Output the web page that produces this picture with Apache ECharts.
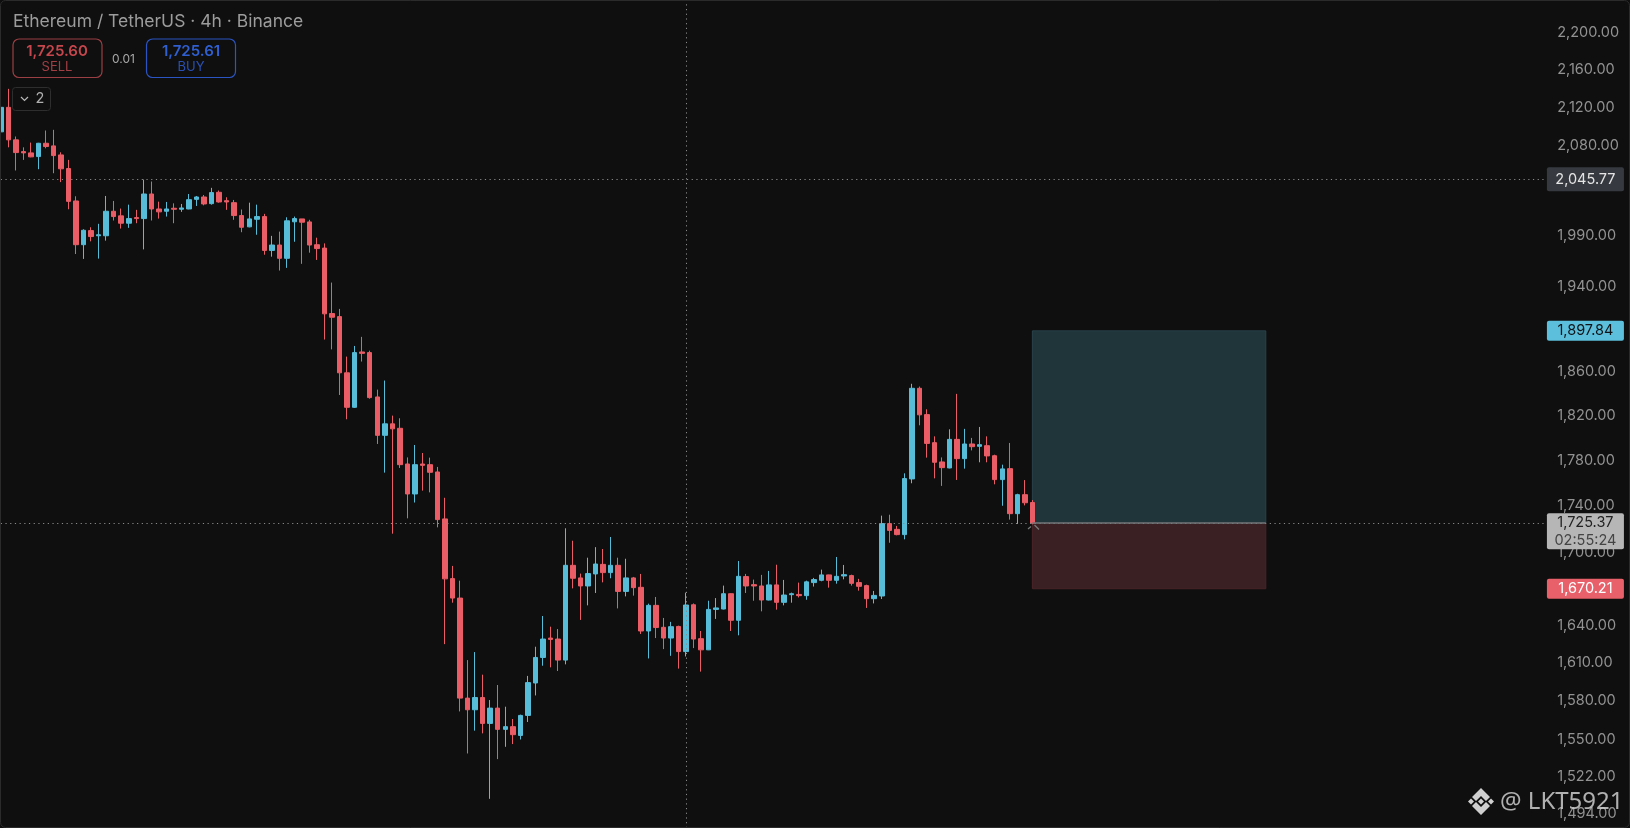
<!DOCTYPE html>
<html><head><meta charset="utf-8">
<script src="https://cdn.jsdelivr.net/npm/echarts@6/dist/echarts.min.js"></script>
<style>html,body{margin:0;padding:0;background:#0a0a0a}#c{width:1630px;height:828px}</style>
</head><body><div id="c"></div>
<script>
const opens=[2094.5,2120.1,2086.2,2074.1,2072.8,2069,2082.7,2080,2070.7,2056.8,
2024,1980.6,1994.5,1989.4,1989.4,2013.7,2009.1,2001.8,2007.4,2006.4,
2031,2016,2013.7,2016.7,2015.7,2016,2025.6,2028,2021.3,2032.7,
2024.3,2022.3,2009.4,1998.2,2005.7,2008.4,1975,1980.3,1967.3,2003.2,
2006.1,2003.1,1980.6,1977.3,1914.2,1911.3,1858.8,1827.3,1878.1,1877.5,
1836.7,1802.1,1812.4,1808.4,1776.7,1750.5,1776.7,1776.1,1769.7,1729,
1678.6,1662.5,1582.1,1573,1582.6,1562.4,1574.3,1557.8,1559.9,1553.1,
1568.6,1594,1614.3,1629.9,1629.1,1612.2,1689.7,1679.2,1672.5,1682.5,
1690.5,1683.6,1689.7,1668,1679.2,1671.4,1635.6,1656.5,1638.6,1629.9,
1639.3,1619,1657,1629.4,1620.4,1653.2,1653.5,1666.1,1644.3,1680.3,
1673.6,1672.5,1660.9,1673.4,1659,1665.3,1665.5,1664.5,1675.3,1677.2,
1681.7,1677.2,1680.8,1681.1,1675.3,1672.8,1662,1664.2,1725,1720.1,
1715.6,1763.6,1844.6,1820.7,1795.6,1778.5,1773.2,1798.5,1781.4,1794.4,
1792.3,1792.9,1784,1763,1772.6,1733.5,1749.9,1743.1];
const closes=[2120.1,2086.2,2073.1,2072.8,2068.7,2082.7,2079.3,2070,2056.5,2023.6,
1980.6,1994.8,1988.6,1990.4,2013.7,2008.4,2001.8,2006.4,2006.4,2031,
2016,2013.1,2016,2015.7,2017,2025.3,2028,2021,2032.4,2023,
2023,2009.4,1997.8,2006.1,2008.4,1975,1980.3,1967.3,2004.2,2006.4,
2002.8,1980.3,1976.8,1913.9,1910.7,1858.8,1827.3,1877.5,1876.8,1836.1,
1802.1,1812.4,1807.9,1776.1,1750.5,1776.1,1775.5,1769.4,1728.4,1678.4,
1662.5,1582.1,1573,1582.6,1562.4,1574.3,1557.8,1559.9,1553.7,1568.6,
1594.3,1614.3,1629.1,1628.8,1612.2,1689.7,1678.9,1672.5,1682.8,1690.8,
1683.6,1689.7,1668,1679.2,1671.1,1635.6,1656.5,1638.4,1629.9,1639.1,
1619,1656.8,1629.1,1620.4,1653.2,1654.4,1666.1,1644.3,1680.5,1672.5,
1672.5,1660.9,1673.4,1659,1665,1666.1,1664.5,1675.9,1677.8,1681.7,
1677.2,1680.5,1681.9,1674.7,1672.2,1662,1664.7,1725,1719.2,1715.6,
1763.9,1844.6,1820.5,1794.9,1778.2,1773.5,1798.5,1781.4,1794.4,1792,
1793.8,1783.8,1763,1772.4,1733.5,1749.9,1742.9,1725.37];
const lows=[2092,2078.5,2054.8,2065.6,2068.3,2056.1,2077.5,2052,2043,2015.7,
1971.5,1966.7,1983.9,1967,1984.6,2004.5,1996.5,1997.2,2001.8,1976,
2004.5,2006.4,2008.4,2001.8,2013.1,2015.7,2019,2019.6,2020.3,2022.3,
2015.1,2005.2,1992.9,1997.8,1990.4,1970.8,1968.9,1955.4,1958,1983.5,
1961.9,1972.8,1965.7,1889.7,1880.5,1838.5,1816.5,1826.7,1869.2,1835.1,
1794.4,1769.1,1716.4,1773.2,1729.5,1743.1,1753.4,1751.9,1721.8,1625,
1658.7,1571.7,1539.3,1556.8,1554.7,1505.1,1535,1544.4,1546.5,1550,
1563.5,1584.2,1607.7,1606.4,1603.5,1608.8,1670.5,1644.6,1656.5,1666.7,
1675.5,1678.9,1654,1663.9,1664.5,1633.2,1613.5,1629.9,1621,1615.6,
1605.4,1615.1,1621.8,1603,1620.2,1645.4,1653.2,1635.6,1632.1,1666.7,
1660.3,1651.6,1660.6,1653,1656.5,1658.7,1663,1661.1,1672,1676.4,
1671.1,1674.4,1678,1672.8,1668.6,1654.4,1658.1,1661.7,1708.7,1715,
1711.6,1759.8,1811.1,1782.3,1764.1,1757.5,1772.9,1762.7,1772.6,1788.7,
1778.2,1778.2,1758.9,1740.3,1728.4,1724.7,1740.6,1724.4];
const highs=[2122,2139.6,2089.7,2078.5,2083.4,2083.1,2095.9,2096.6,2073.4,2065.6,
2028.7,1995.8,1997.8,2001.2,2029,2024,2016.4,2020.3,2015.1,2045.6,
2043.6,2023.3,2023,2021.6,2021,2031,2029,2030,2037.2,2034.5,
2027.7,2025,2015.4,2022.3,2020.3,2011.1,1989.3,1993.5,2007.7,2008.4,
2006.1,2005.2,1987.5,1981.9,1943.8,1918.6,1873.8,1883.7,1892.2,1879.3,
1843.4,1851.7,1819.8,1817.4,1782.5,1793.5,1786.4,1782.3,1774.1,1747.2,
1689.2,1676.9,1612.2,1618.6,1600.6,1580.6,1592.4,1575.4,1565.8,1569.2,
1599.6,1622.9,1647.8,1639.1,1637.2,1721,1710.4,1682.8,1696.1,1705,
1703.4,1713.6,1696.1,1695.2,1680,1682.5,1657.9,1663.4,1646.2,1643,
1639.9,1667,1658.1,1635.6,1660.3,1662.5,1672.8,1666.4,1693.3,1682.5,
1677.8,1681.7,1685,1690.2,1677.5,1667,1675.3,1676.9,1679.2,1686.1,
1681.9,1696.7,1690,1681.9,1678.4,1673.6,1668.4,1731.8,1732.6,1723,
1768.5,1848.7,1846.2,1825.5,1801.2,1782.5,1807.5,1839.5,1807.9,1799.8,
1809.6,1801.2,1784.9,1776.1,1795.3,1750.7,1762.6,1745.2];
const tickValues=[2200,2160,2120,2080,1990,1940,1860,1820,1780,1740,1700,1640,1610,1580,1550,1522,1494];
const slotCount=206;
const categories=Array.from({length:slotCount},(_,i)=>String(i));
const targetPrice=1897.84, entryPrice=1725.37, stopPrice=1670.21, crossPrice=2045.77;
const sellPrice='1,725.60', buyPrice='1,725.61', spread='0.01';
const countdown='02:55:24';
const positionFrom=137, positionTo=168, crossIndex=91;
const fmt=v=>v.toLocaleString('en-US',{minimumFractionDigits:2,maximumFractionDigits:2});
const UP='#56BCD8',DOWN='#EA5D66',FONT='Inter, "Noto Sans", sans-serif';
const candleData=opens.map((o,i)=>[o,closes[i],lows[i],highs[i]]);
const tag=(price,bg,fg,h)=>({value:[String(slotCount-1),price],
 label:{show:true,position:'right',distance:0,offset:[41,0],formatter:fmt(price),verticalAlign:'middle',align:'center',
 backgroundColor:bg,color:fg,width:77,height:h,lineHeight:h,borderRadius:2,fontSize:14.5,fontFamily:FONT}});
const dotted={type:[1.2,3.5],width:1,color:'#8a8a8a'};
const chart=echarts.init(document.getElementById('c'),null,{renderer:'canvas'});
chart.setOption({
 animation:false,backgroundColor:'#0f0f0f',
 grid:{left:-3,top:0,width:206*7.53,height:828,outerBoundsMode:'none',containLabel:false},
 xAxis:{type:'category',data:categories,boundaryGap:true,show:false},
 yAxis:{type:'log',position:'right',min:1483.5,max:2235.9,axisLine:{show:false},axisTick:{show:false},splitLine:{show:false},
  axisLabel:{show:true,customValues:tickValues,formatter:fmt,color:'#929292',fontSize:14.5,fontFamily:FONT,margin:9,showMinLabel:true,showMaxLabel:true}},
 tooltip:{show:false},
 series:[
  {type:'candlestick',name:'ETHUSDT',data:candleData,barWidth:5,z:3,
   itemStyle:{color:UP,color0:DOWN,borderColor:UP,borderColor0:DOWN,borderWidth:1},
   markArea:{silent:true,z:1,data:[
    [{xAxis:positionFrom,yAxis:targetPrice,itemStyle:{color:'#1f3539',borderColor:'#29434a',borderWidth:1}},{xAxis:positionTo,yAxis:entryPrice}],
    [{xAxis:positionFrom,yAxis:entryPrice,itemStyle:{color:'#3a2022',borderColor:'#4a2428',borderWidth:1}},{xAxis:positionTo,yAxis:stopPrice}]
   ]},
   markLine:{silent:true,symbol:'none',z:4,label:{show:false},data:[
    [{xAxis:0,yAxis:crossPrice,lineStyle:dotted},{xAxis:slotCount-1,yAxis:crossPrice}],
    [{xAxis:0,yAxis:entryPrice,lineStyle:dotted},{xAxis:slotCount-1,yAxis:entryPrice}],
    [{xAxis:positionFrom,yAxis:entryPrice,lineStyle:{type:'solid',width:1.5,color:'#6f7678'}},{xAxis:positionTo,yAxis:entryPrice}],
    {xAxis:crossIndex,lineStyle:dotted}
   ]}},
  {type:'scatter',name:'tags',symbolSize:0,clip:false,z:10,silent:true,itemStyle:{opacity:1},data:[
    tag(crossPrice,'#363a40','#e4e4e4',24),
    tag(targetPrice,'#5cc0dc','#101418',20),
    tag(stopPrice,'#e8606a','#ffffff',20),
    {value:[String(slotCount-1),entryPrice],label:{show:true,position:'right',distance:0,verticalAlign:'top',align:'center',offset:[41,-10],
     formatter:'{a|'+fmt(entryPrice)+'}\n{b|'+countdown+'}',backgroundColor:'#b6b6b6',width:77,height:36,borderRadius:2,
     rich:{a:{color:'#222',fontSize:14.5,fontFamily:FONT,lineHeight:18,align:'center'},b:{color:'#444',fontSize:14.5,fontFamily:FONT,lineHeight:18,align:'center'}}}}
  ]}
 ],
 graphic:{elements:[
  {type:'rect',silent:true,z:20,shape:{x:0.5,y:0.5,width:1629,height:827,r:5},style:{fill:null,stroke:'#2b2b2b',lineWidth:1}},
  {type:'text',z:20,x:13,y:21.5,style:{text:'Ethereum / TetherUS · 4h · Binance',fill:'#9c9c9c',font:'17.5px '+FONT,verticalAlign:'middle'}},
  {type:'rect',z:20,shape:{x:13,y:39,width:89,height:38.5,r:6},style:{fill:'#0f0f0f',stroke:'#9b3f44',lineWidth:1.2}},
  {type:'text',z:21,x:57,y:51,style:{text:sellPrice,fill:'#c5474d',font:'600 15px '+FONT,align:'center',verticalAlign:'middle'}},
  {type:'text',z:21,x:57,y:67,style:{text:'SELL',fill:'#a03f44',font:'13px '+FONT,align:'center',verticalAlign:'middle'}},
  {type:'text',z:21,x:123.5,y:59,style:{text:spread,fill:'#a8a8a8',font:'12px '+FONT,align:'center',verticalAlign:'middle'}},
  {type:'rect',z:20,shape:{x:146.5,y:39,width:89,height:38.5,r:6},style:{fill:'#0f0f0f',stroke:'#2c55c4',lineWidth:1.2}},
  {type:'text',z:21,x:191,y:51,style:{text:buyPrice,fill:'#2f5fd0',font:'600 15px '+FONT,align:'center',verticalAlign:'middle'}},
  {type:'text',z:21,x:191,y:67,style:{text:'BUY',fill:'#2a50b4',font:'13px '+FONT,align:'center',verticalAlign:'middle'}},
  {type:'rect',z:20,shape:{x:12.5,y:87.5,width:38,height:23,r:3},style:{fill:'#0f0f0f',stroke:'#2e2e2e',lineWidth:1}},
  {type:'polyline',z:21,shape:{points:[[21,97],[24.5,100.5],[28,97]]},style:{stroke:'#b8b8b8',lineWidth:1.2,fill:null}},
  {type:'text',z:21,x:40,y:99,style:{text:'2',fill:'#b0b0b0',font:'14.5px '+FONT,align:'center',verticalAlign:'middle'}},
  {type:'line',z:21,shape:{x1:1028,y1:529,x2:1031,y2:526.5},style:{stroke:'#7a7a7a',lineWidth:1.2}},
  {type:'line',z:21,shape:{x1:1034.5,y1:525,x2:1039,y2:529.5},style:{stroke:'#7a7a7a',lineWidth:1.2}},
  {type:'polygon',z:30,shape:{points:[[1481,788],[1490,797],[1486,801],[1481,796],[1476,801],[1472,797]]},style:{fill:'#cfcfcf'}},
  {type:'polygon',z:30,shape:{points:[[1481,815],[1490,806],[1486,802],[1481,807],[1476,802],[1472,806]]},style:{fill:'#cfcfcf'}},
  {type:'polygon',z:30,shape:{points:[[1481,798.5],[1484,801.5],[1481,804.5],[1478,801.5]]},style:{fill:'#cfcfcf'}},
  {type:'polygon',z:30,shape:{points:[[1471,798.5],[1474,801.5],[1471,804.5],[1468,801.5]]},style:{fill:'#cfcfcf'}},
  {type:'polygon',z:30,shape:{points:[[1491,798.5],[1494,801.5],[1491,804.5],[1488,801.5]]},style:{fill:'#cfcfcf'}},
  {type:'text',z:30,x:1500,y:802,style:{text:'@ LKT5921',fill:'rgba(205,205,205,0.85)',font:'24px "Noto Sans", sans-serif',verticalAlign:'middle'}}
 ]}
});
</script></body></html>
